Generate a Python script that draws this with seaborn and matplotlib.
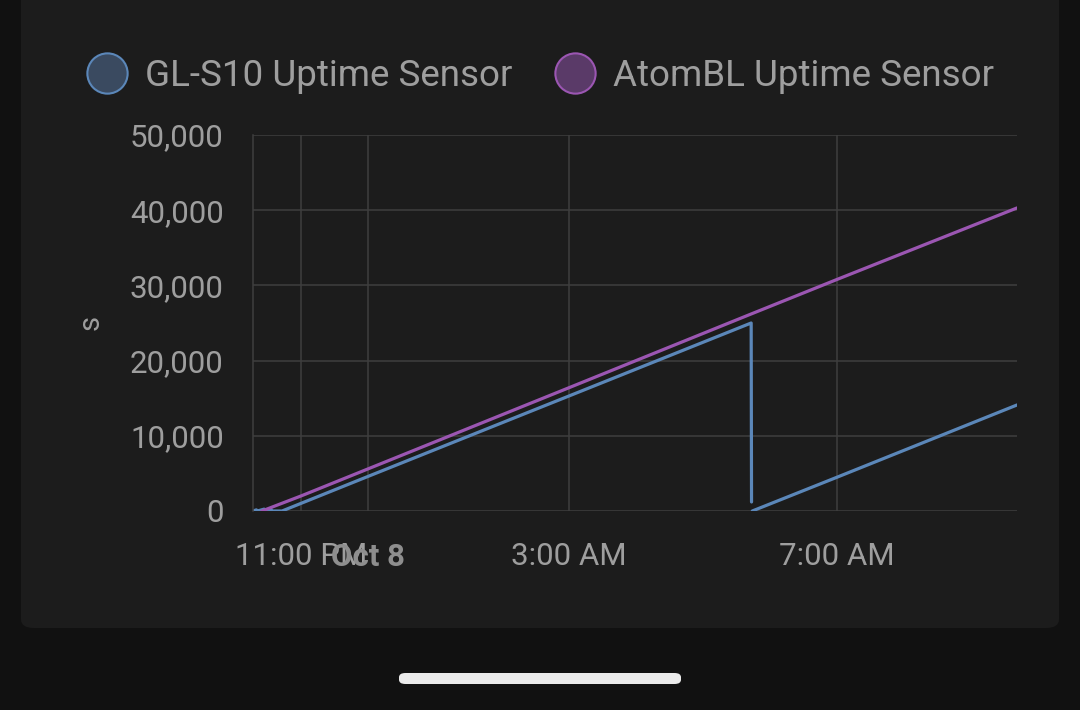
import pandas as pd
import matplotlib
matplotlib.use("Agg")
import matplotlib.pyplot as plt
import matplotlib.dates as mdates
from matplotlib.lines import Line2D
from matplotlib.patches import FancyBboxPatch
from matplotlib.ticker import FuncFormatter, FixedLocator
import seaborn as sns

# Data (uptime in seconds)
atom_times = ["2023-10-07 22:25:00", "2023-10-07 23:00:00", "2023-10-08 00:00:00", "2023-10-08 03:00:00",
              "2023-10-08 05:43:00", "2023-10-08 07:00:00", "2023-10-08 09:41:00"]
atom_values = [0, 2000, 5600, 16400, 26200, 30800, 40300]

gl_times_a = ["2023-10-07 22:17:00", "2023-10-07 22:20:00", "2023-10-07 22:21:00", "2023-10-07 22:27:00",
              "2023-10-07 22:28:00", "2023-10-07 22:33:00", "2023-10-07 22:34:00", "2023-10-07 22:43:00",
              "2023-10-08 00:00:00", "2023-10-08 03:00:00", "2023-10-08 05:43:00", "2023-10-08 05:43:20"]
gl_values_a = [0, 150, 0, 250, 0, 250, 0, 0, 4600, 15300, 25000, 1200]
gl_times_b = ["2023-10-08 05:44:00", "2023-10-08 07:00:00", "2023-10-08 09:41:00"]
gl_values_b = [0, 4500, 14100]

series_names = ["GL-S10 Uptime Sensor", "AtomBL Uptime Sensor"]
series_colors = ["#5b87b9", "#9b56b2"]
series_fills = ["#3a4a60", "#5a3a68"]

tick_times = ["2023-10-07 23:00:00", "2023-10-08 00:00:00", "2023-10-08 03:00:00", "2023-10-08 07:00:00"]
tick_labels = ["11:00 PM", "Oct 8", "3:00 AM", "7:00 AM"]
y_ticks = [0, 10000, 20000, 30000, 40000, 50000]
x_range = ["2023-10-07 22:17:00", "2023-10-08 09:41:00"]

df = pd.concat([
    pd.DataFrame({"time": pd.to_datetime(gl_times_a), "value": gl_values_a,
                  "series": series_names[0], "seg": "gl_a"}),
    pd.DataFrame({"time": pd.to_datetime(gl_times_b), "value": gl_values_b,
                  "series": series_names[0], "seg": "gl_b"}),
    pd.DataFrame({"time": pd.to_datetime(atom_times), "value": atom_values,
                  "series": series_names[1], "seg": "atom"}),
], ignore_index=True)

sns.set_style("dark")
plt.rcParams["font.family"] = ["Roboto", "DejaVu Sans"]

bg = "#111111"
card = "#1c1c1c"
grid_c = "#3e3e3e"
text_c = "#9e9e9e"

fig = plt.figure(figsize=(10.8, 7.1), dpi=100, facecolor=bg)
fig.add_artist(FancyBboxPatch((21 / 1080, 82 / 710), 1038 / 1080, 700 / 710,
                              boxstyle="round,pad=0,rounding_size=0.012",
                              transform=fig.transFigure, facecolor=card, edgecolor="none",
                              zorder=-10))
fig.add_artist(FancyBboxPatch((399 / 1080, 26 / 710), 282 / 1080, 11 / 710,
                              boxstyle="round,pad=0,rounding_size=0.006",
                              transform=fig.transFigure, facecolor="#ebebeb", edgecolor="none",
                              zorder=-10))

ax = fig.add_axes([253 / 1080, (710 - 511) / 710, (1017 - 253) / 1080, (511 - 135) / 710])
ax.set_facecolor("none")

sns.lineplot(data=df, x="time", y="value", hue="series", units="seg", estimator=None,
             sort=False, palette=dict(zip(series_names, series_colors)), linewidth=2.3,
             legend=False, ax=ax)

xlim = pd.to_datetime(x_range)
ax.set_xlim(xlim[0], xlim[1])
ax.set_ylim(0, 50000)

ax.set_xticks(pd.to_datetime(tick_times))
ax.set_xticklabels(tick_labels)
ax.xaxis.set_minor_locator(FixedLocator([mdates.date2num(xlim[0])]))
ax.set_yticks(y_ticks)
ax.yaxis.set_major_formatter(FuncFormatter(lambda v, p: f"{int(v):,}"))

ax.grid(True, color=grid_c, linewidth=1.1)
for name, sp in ax.spines.items():
    sp.set_visible(name == "left")
ax.spines["left"].set_color(grid_c)
ax.spines["left"].set_linewidth(1.1)

ax.tick_params(axis="y", length=15, width=1.1, color=grid_c, pad=6, labelsize=22.5, labelcolor=text_c)
ax.tick_params(axis="x", which="major", length=13.5, width=1.1, color=grid_c, pad=9,
               labelsize=22.5, labelcolor=text_c)
ax.tick_params(axis="x", which="minor", length=15, width=1.1, color=grid_c)
ax.get_xticklabels()[1].set_fontweight("bold")
ax.get_xticklabels()[1].set_color("#8e8e8e")

ax.set_xlabel("")
ax.set_ylabel("s", fontsize=21, color=text_c, labelpad=18)

handles = [Line2D([], [], linestyle="none", marker="o", markersize=29, markeredgewidth=1.5,
                  markerfacecolor=f, markeredgecolor=c) for c, f in zip(series_colors, series_fills)]
fig.legend(handles, series_names, loc="center", bbox_to_anchor=(0.5, 1 - 76 / 710), ncol=2,
           frameon=False, fontsize=26.5, labelcolor=text_c, handlelength=1.17,
           handletextpad=0.45, columnspacing=1.12)

fig.savefig("out.png", dpi=100, facecolor=bg)
